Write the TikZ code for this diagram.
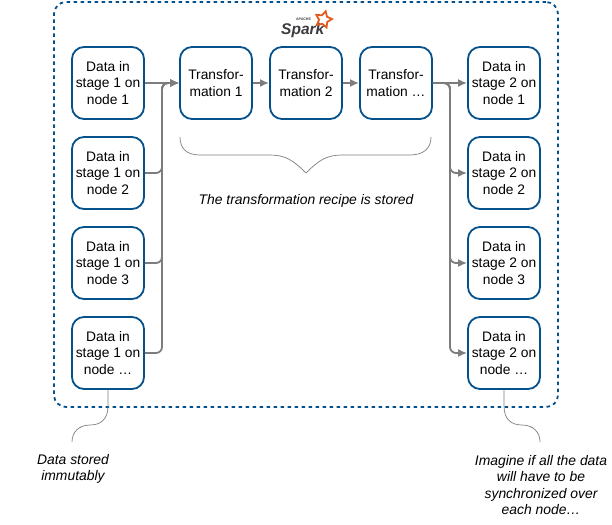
\documentclass[tikz,border=0pt]{standalone}
\usepackage{fontspec}
\setmainfont{Liberation Sans}
\usepackage{tikz}
\usetikzlibrary{shapes.geometric,arrows.meta}
\definecolor{boxblue}{RGB}{4,81,140}
\definecolor{flowgray}{RGB}{125,125,125}
\definecolor{sparkorange}{RGB}{226,90,28}
\definecolor{sparkgray}{RGB}{60,58,62}
\tikzset{
    x=1pt, y=-1pt,
    stagebox/.style={draw=boxblue, line width=1.8pt, rounded corners=12pt, minimum width=72pt, minimum height=72pt, inner sep=0pt, align=center, font=\fontsize{13.8}{16.5}\selectfont},
    flow/.style={draw=flowgray, line width=1.8pt, rounded corners=6pt, -{Latex[length=9pt,width=8pt]}},
    remark/.style={draw=flowgray, line width=0.7pt},
    caption/.style={align=center, font=\fontsize{13.9}{16.4}\selectfont\itshape}
}
\begin{document}
\begin{tikzpicture}
    \useasboundingbox (0,0) rectangle (612,524);
    \node[draw=boxblue, line width=1.8pt, dash pattern=on 3.5pt off 3.5pt, rounded corners=12pt, minimum width=504pt, minimum height=405pt, inner sep=0pt] (frame) at (306,204.5) {};

    % logo
    \node[font=\fontsize{3.6}{4}\selectfont\bfseries, text=sparkgray, inner sep=0pt] (apache) at (303.5,19.5) {APACHE};
    \node[font=\fontsize{15.5}{16}\selectfont\bfseries\itshape, text=sparkgray, inner sep=0pt, anchor=base west] (spark) at (281,35) {Spark};
    \node[star, star points=5, star point ratio=1.9, draw=sparkorange, line width=1.8pt, minimum size=17pt, inner sep=0pt, rotate=-15] (sparkstar) at (323.5,19.5) {};

    % stage 1
    \node[stagebox] (a1) at (108,83) {Data in\\stage 1 on\\node 1};
    \node[stagebox] (a2) at (108,173) {Data in\\stage 1 on\\node 2};
    \node[stagebox] (a3) at (108,263) {Data in\\stage 1 on\\node 3};
    \node[stagebox] (a4) at (108,353) {Data in\\stage 1 on\\node \dots};

    % transformations
    \node[stagebox] (t1) at (216,83) {Transfor-\\mation 1};
    \node[stagebox] (t2) at (306,83) {Transfor-\\mation 2};
    \node[stagebox] (t3) at (396,83) {Transfor-\\mation \dots};

    % stage 2
    \node[stagebox] (b1) at (504,83) {Data in\\stage 2 on\\node 1};
    \node[stagebox] (b2) at (504,173) {Data in\\stage 2 on\\node 2};
    \node[stagebox] (b3) at (504,263) {Data in\\stage 2 on\\node 3};
    \node[stagebox] (b4) at (504,353) {Data in\\stage 2 on\\node \dots};

    \coordinate (inbus) at (162,83);
    \coordinate (outbus) at (450,83);

    \draw[flow] (a1.east)--(t1.west);
    \draw[flow] (a2.east) -| (inbus) -- (t1.west);
    \draw[flow] (a3.east) -| (inbus) -- (t1.west);
    \draw[flow] (a4.east) -| (inbus) -- (t1.west);
    \draw[flow] (t1.east)--(t2.west);
    \draw[flow] (t2.east)--(t3.west);
    \draw[flow] (t3.east)--(b1.west);
    \draw[flow] (t3.east) -- (outbus) |- (b2.west);
    \draw[flow] (t3.east) -- (outbus) |- (b3.west);
    \draw[flow] (t3.east) -- (outbus) |- (b4.west);

    % brace
    \draw[remark] (180,137) .. controls (180,148) and (186,155) .. (200,155) -- (270,155) .. controls (285,155) and (293,160) .. (306,173) .. controls (319,160) and (327,155) .. (342,155) -- (410,155) .. controls (424,155) and (431,148) .. (431,137);
    \node[caption] (recipe) at (306,201) {The transformation recipe is stored};

    % remarks
    \node[caption] (stored) at (73,469) {Data stored\\immutably};
    \node[caption] (imagine) at (541,485) {Imagine if all the data\\will have to be\\synchronized over\\each node\dots};
    \coordinate (storedend) at (72,442);
    \coordinate (imagineend) at (540,442);
    \draw[remark] (a4.south) -- (108,406) .. controls (108,420) and (100,425) .. (90,425) .. controls (79,425) and (72,432) .. (storedend);
    \draw[remark] (b4.south) -- (504,406) .. controls (504,420) and (512,425) .. (522,425) .. controls (533,425) and (540,432) .. (imagineend);
\end{tikzpicture}
\end{document}
